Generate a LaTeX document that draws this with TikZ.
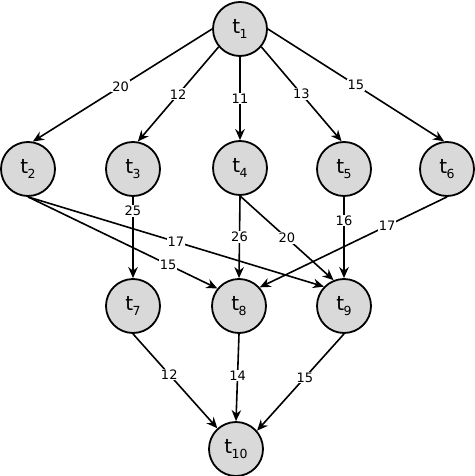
\documentclass[tikz,border=0pt]{standalone}
\usepackage{fontspec}
\setmainfont{DejaVu Sans}
\usetikzlibrary{arrows.meta}
\definecolor{nodegray}{RGB}{217,217,217}
\newcommand{\tsub}[1]{t\kern-0.5pt\raisebox{-0.25em}{\fontsize{12.5}{13}\selectfont #1}}
\begin{document}
\begin{tikzpicture}[x=1pt,y=-1pt,
  task/.style={circle,draw=black,line width=1.8pt,fill=nodegray,minimum size=54pt,inner sep=0pt,font=\fontsize{20}{21}\selectfont},
  arr/.style={line width=1.6pt,-{Stealth[length=11pt,width=9.5pt]}},
  lbl/.style={fill=white,inner sep=1pt,font=\fontsize{13}{14}\selectfont}]
\useasboundingbox (0,0) rectangle (474,476);
\node[task] (t1) at (240,29) {\tsub{1}};
\node[task] (t2) at (28,169) {\tsub{2}};
\node[task] (t3) at (133,169) {\tsub{3}};
\node[task] (t4) at (240,168) {\tsub{4}};
\node[task] (t5) at (344,169) {\tsub{5}};
\node[task] (t6) at (447,169) {\tsub{6}};
\node[task] (t7) at (133,306) {\tsub{7}};
\node[task] (t8) at (239,306) {\tsub{8}};
\node[task] (t9) at (344,306) {\tsub{9}};
\node[task] (t10) at (236,449) {\tsub{10}};
\draw[arr] (t1.west) -- node[lbl,pos=.51] {20} (t2.80);
\draw[arr] (t1.220) -- node[lbl,pos=.5] {12} (t3.80);
\draw[arr] (t1.south) -- node[lbl,pos=.5] {11} (t4.north);
\draw[arr] (t1.320) -- node[lbl,pos=.5] {13} (t5.95);
\draw[arr] (t1.east) -- node[lbl,pos=.5] {15} (t6.96);
\draw[arr] (t2.south) -- node[lbl,pos=.74] {15} (t8.141);
\draw[arr] (t2.south) -- node[lbl,pos=.5] {17} (t9.136);
\draw[arr] (t3.south) -- node[lbl,pos=.17] {25} (t7.north);
\draw[arr] (t4.south) -- node[lbl,pos=.5] {26} (t8.north);
\draw[arr] (t4.south) -- node[lbl,pos=.5] {20} (t9.112);
\draw[arr] (t5.south) -- node[lbl,pos=.29] {16} (t9.north);
\draw[arr] (t6.south) -- node[lbl,pos=.32] {17} (t8.42);
\draw[arr] (t7.south) -- node[lbl,pos=.43] {12} (t10.132);
\draw[arr] (t8.south) -- node[lbl,pos=.48] {14} (t10.north);
\draw[arr] (t9.south) -- node[lbl,pos=.45] {15} (t10.41);
\end{tikzpicture}
\end{document}
